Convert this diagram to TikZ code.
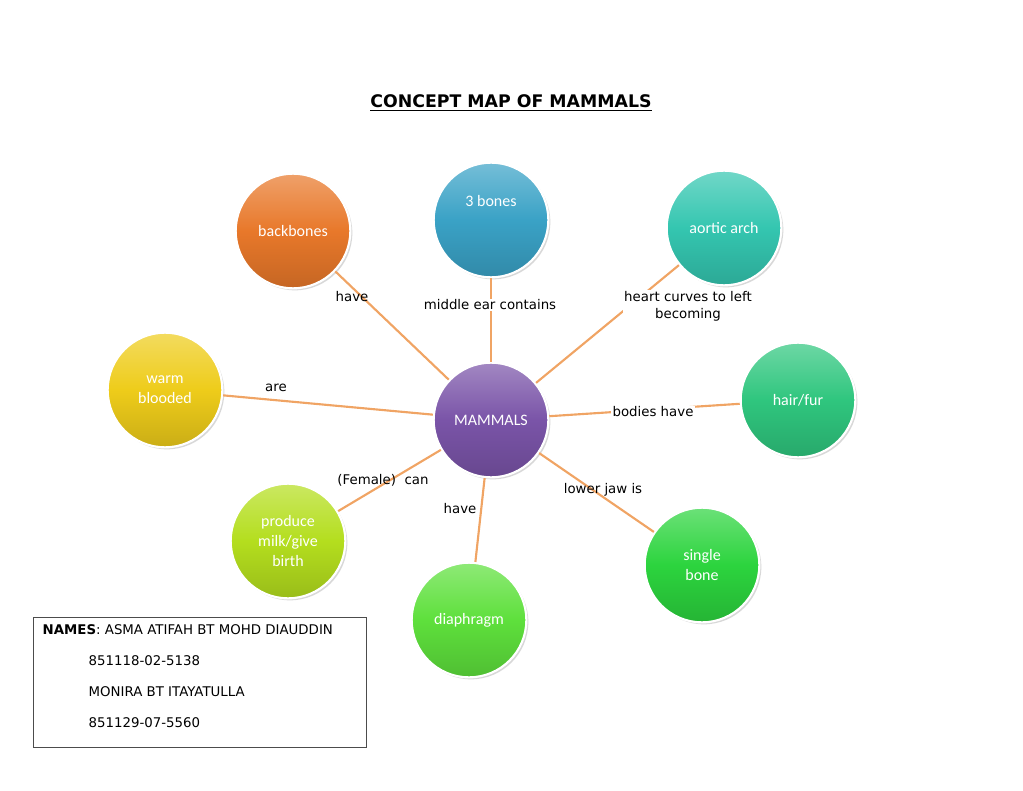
\documentclass[tikz,border=0pt]{standalone}
\usepackage{fontspec}
\setmainfont{DejaVu Sans}
\newfontfamily\ballfont{Carlito}
\usetikzlibrary{shadows}
\definecolor{cOr}{HTML}{E8782A}
\definecolor{cBl}{HTML}{3AA2C6}
\definecolor{cTe}{HTML}{34C6B0}
\definecolor{cYe}{HTML}{EECC1A}
\definecolor{cPu}{HTML}{7A54A8}
\definecolor{cHf}{HTML}{2FC67E}
\definecolor{cLi}{HTML}{B4DE1E}
\definecolor{cDi}{HTML}{5EE03C}
\definecolor{cSb}{HTML}{2CD43E}
\definecolor{edge}{HTML}{F0A464}
\tikzset{
  ball/.style={circle, minimum size=86pt, inner sep=1pt, draw=white, line width=1.6pt,
    top color=#1!70!white, bottom color=#1!85!black, middle color=#1,
    drop shadow={shadow xshift=1.5pt, shadow yshift=-1.5pt, fill=black!30},
    text=white, font=\ballfont\fontsize{12}{15}\selectfont, align=center},
  link/.style={draw=edge, line width=1.6pt},
  lbl/.style={font=\fontsize{10}{13}\selectfont, align=center, text=black}
}
\begin{document}
\begin{tikzpicture}[x=0.75pt,y=-0.75pt]
\useasboundingbox (0,0) rectangle (1023,791);
\node[font=\bfseries\fontsize{13}{16}\selectfont] (title) at (511,103) {\underline{CONCEPT MAP OF MAMMALS}};
\node[ball=cPu] (m) at (491,420) {MAMMALS};
\node[ball=cOr] (bb) at (293,231) {backbones};
\node[ball=cBl] (tb) at (491,220) {3 bones\\[14pt]};
\node[ball=cTe] (aa) at (724,228) {aortic arch};
\node[ball=cYe] (wb) at (165,390) {warm\\blooded};
\node[ball=cHf] (hf) at (798,400) {hair/fur};
\node[ball=cLi] (pm) at (288,541) {produce\\milk/give\\birth};
\node[ball=cDi] (di) at (469,620) {diaphragm};
\node[ball=cSb] (sb) at (702,565) {single\\bone};
\foreach \t in {bb,tb,aa,wb,hf,pm,di,sb} {\draw[link] (m) -- (\t);}
\node[lbl] (l1) at (352,297) {have};
\node[lbl,fill=white,inner sep=1pt] (l2) at (490,305) {middle ear contains};
\node[lbl,fill=white,inner sep=1pt] (l3) at (688,306) {heart curves to left\\becoming};
\node[lbl] (l4) at (276,388) {are};
\node[lbl,fill=white,inner sep=1pt] (l5) at (653,412) {bodies have};
\node[lbl] (l6) at (383,480) {(Female)\ \ can};
\node[lbl] (l7) at (460,509) {have};
\node[lbl] (l8) at (603,490) {lower jaw is};
\draw[black!70, line width=0.6pt] (33,617) rectangle (366,747);
\node[lbl, anchor=west] (n1) at (38,630) {\textbf{NAMES}: ASMA ATIFAH BT MOHD DIAUDDIN};
\node[lbl, anchor=west] (n2) at (84,661) {851118-02-5138};
\node[lbl, anchor=west] (n3) at (84,692) {MONIRA BT ITAYATULLA};
\node[lbl, anchor=west] (n4) at (84,723) {851129-07-5560};
\end{tikzpicture}
\end{document}
